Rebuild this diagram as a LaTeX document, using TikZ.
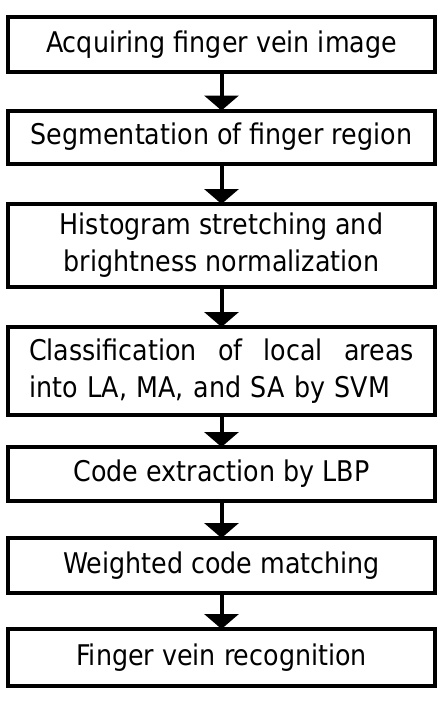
\documentclass[tikz,border=0pt]{standalone}
\usepackage{fontspec}
\setmainfont{DejaVu Sans}[FakeStretch=0.89]
\usetikzlibrary{arrows.meta}
\begin{document}
\begin{tikzpicture}[x=1pt,y=-1pt,
  stepbox/.style={draw=black, line width=4pt, outer sep=0pt, inner sep=0pt,
    minimum width=427pt, align=center,
    font=\fontsize{28.5}{37}\selectfont},
  flowarrow/.style={line width=4pt, -{Triangle[width=34pt,length=15pt]}}]
\useasboundingbox (0,0) rectangle (443,702);
\node[stepbox, minimum height=55pt] (b1) at (221.5,44.5) {Acquiring finger vein image};
\node[stepbox, minimum height=53pt] (b2) at (221.5,137) {Segmentation of finger region};
\node[stepbox, minimum height=83pt] (b3) at (221.5,245.5) {Histogram stretching and\\brightness normalization};
\node[stepbox, minimum height=87.5pt, text width=385pt, align=left] (b4) at (221.5,370.75)
  {\hbox to 385pt{Classification\hfill of\hfill local\hfill areas}\\into LA, MA, and SA by SVM};
\node[stepbox, minimum height=54pt] (b5) at (221.5,474) {Code extraction by LBP};
\node[stepbox, minimum height=55pt] (b6) at (221.5,565.5) {Weighted code matching};
\node[stepbox, minimum height=57pt] (b7) at (221.5,657.5) {Finger vein recognition};
\draw[flowarrow] (b1.south) -- (b2.north);
\draw[flowarrow] (b2.south) -- (b3.north);
\draw[flowarrow] (b3.south) -- (b4.north);
\draw[flowarrow] (b4.south) -- (b5.north);
\draw[flowarrow] (b5.south) -- (b6.north);
\draw[flowarrow] (b6.south) -- (b7.north);
\end{tikzpicture}
\end{document}
